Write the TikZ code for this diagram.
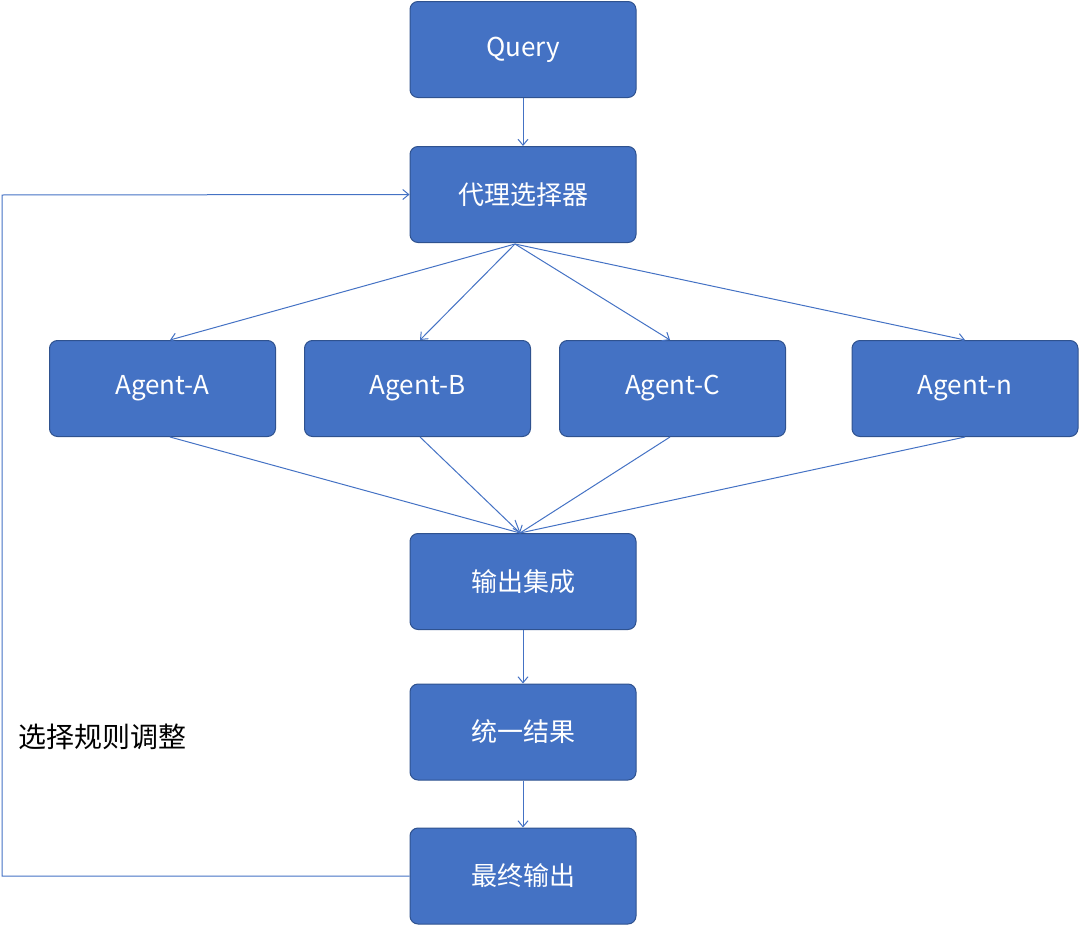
\documentclass[tikz,border=0pt]{standalone}
\usepackage{fontspec}
\setmainfont{Noto Sans CJK SC}
\usetikzlibrary{arrows.meta}
\definecolor{boxfill}{HTML}{4472C4}
\definecolor{boxline}{HTML}{2F528F}
\definecolor{arr}{HTML}{4472C4}
\begin{document}
\begin{tikzpicture}[x=1pt,y=-1pt,
  box/.style={draw=boxline,line width=1pt,fill=boxfill,rounded corners=8pt,minimum width=226pt,minimum height=96pt,text=white,font=\fontsize{26}{30}\selectfont,inner sep=0pt},
  ar/.style={draw=arr,line width=1pt,-{Straight Barb[length=6pt,width=10pt]}}]
\useasboundingbox (0,0) rectangle (1080,926);
\node[box] (q) at (523,49.5) {Query};
\node[box] (s) at (523,194.5) {代理选择器};
\node[box] (a) at (162.5,388.5) {Agent-A};
\node[box] (b) at (417.5,388.5) {Agent-B};
\node[box] (c) at (672.5,388.5) {Agent-C};
\node[box] (n) at (965,388.5) {Agent-n};
\node[box] (i) at (523,581.5) {输出集成};
\node[box] (u) at (523,732) {统一结果};
\node[box] (f) at (523,876) {最终输出};
\coordinate (sb) at (515,244);
\coordinate (it) at (520,533);
\draw[ar] (q) -- (s);
\foreach \x/\t in {170/a,420/b,670/c,965/n}{
  \draw[ar] (sb) -- (\x,340);
  \draw[arr,line width=1pt] (\x,437) -- (it);
}
\draw[ar] (515,520) -- (it);
\draw[ar] (i) -- (u);
\draw[ar] (u) -- (f);
\coordinate (c1) at (2,876);
\coordinate (c2) at (2,195);
\draw[ar] (f.west) -- (c1) -- (c2) -- (s.west);
\node[anchor=west,font=\fontsize{28}{32}\selectfont,inner sep=0pt] (lbl) at (18,737) {选择规则调整};
\end{tikzpicture}
\end{document}
